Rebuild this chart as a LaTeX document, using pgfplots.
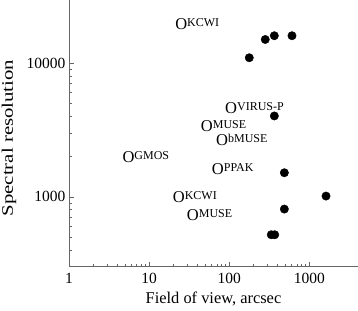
\documentclass[border=0pt]{standalone}
\usepackage{pgfplots}
\pgfplotsset{compat=1.18}
\usepackage{fontspec}
\setmainfont{Liberation Serif}
\newcommand{\lab}[1]{{\fontsize{16.5}{16.5}\selectfont O}{\fontsize{12}{12}\selectfont\raisebox{3pt}{#1}}}
\begin{document}
\begin{tikzpicture}
\begin{axis}[
  name=ax,
  scale only axis,
  width=289pt, height=266.7pt,
  xmode=log, ymode=log,
  xmin=1, xmax=4055,
  ymin=300, ymax=29600,
  axis lines*=left,
  axis line style={-, black!60, line width=0.6pt},
  tick style={black!60, line width=0.5pt},
  tick align=inside,
  major tick length=5pt,
  minor tick length=3pt,
  xtick={1,10,100,1000},
  xticklabels={1,10,100,1000},
  minor xtick={2,3,4,5,6,7,8,9,20,30,40,50,60,70,80,90,200,300,400,500,600,700,800,900},
  ytick={1000,10000},
  yticklabels={1000,10000},
  minor ytick={400,500,600,700,800,900,2000,3000,4000,5000,6000,7000,8000,9000},
  ticklabel style={font=\fontsize{15.5}{15.5}\selectfont},
  xticklabel style={yshift=-3pt},
  xlabel={Field of view, arcsec},
  ylabel={\scalebox{1.3}[1]{Spectral resolution}},
  every axis x label/.style={at={(axis description cs:0.5,0)}, anchor=base, yshift=-37.3pt, font=\fontsize{16.4}{16.4}\selectfont},
  every axis y label/.style={at={(axis description cs:-0.1938,0.4826)}, rotate=90, anchor=base, inner sep=0pt, font=\fontsize{16}{16}\selectfont},
  clip=false,
]
\addplot[only marks, mark=*, mark size=4.2pt, draw=black, fill=black] coordinates {
  (178,10950) (282,15000) (366,16000) (608,16000) (366,4020)
  (488,1512) (1617,1012) (488,809) (335,520) (370,520)
};
\node[anchor=base west, inner sep=0] at (axis cs:21.1,17950) {\lab{KCWI}};
\node[anchor=base west, inner sep=0] at (axis cs:88.6,4160) {\lab{VIRUS-P}};
\node[anchor=base west, inner sep=0] at (axis cs:44.1,3060) {\lab{MUSE}};
\node[anchor=base west, inner sep=0] at (axis cs:68.4,2436) {\lab{bMUSE}};
\node[anchor=base west, inner sep=0] at (axis cs:4.63,1795) {\lab{GMOS}};
\node[anchor=base west, inner sep=0] at (axis cs:60.5,1479) {\lab{PPAK}};
\node[anchor=base west, inner sep=0] at (axis cs:19.7,902) {\lab{KCWI}};
\node[anchor=base west, inner sep=0] at (axis cs:29.5,670) {\lab{MUSE}};
\end{axis}
\pgfresetboundingbox
\path (ax.south west) ++(-69pt,-43.3pt) rectangle (ax.north east);
\end{tikzpicture}
\end{document}
